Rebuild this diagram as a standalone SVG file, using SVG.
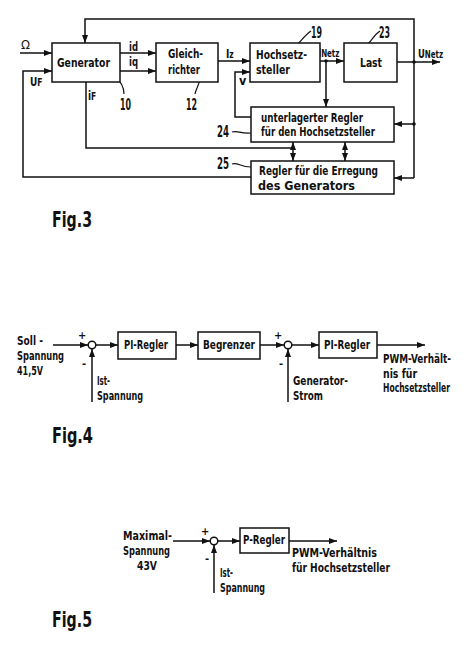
<svg xmlns="http://www.w3.org/2000/svg" width="474" height="648" viewBox="0 0 474 648">
<style>
text{font-family:"DejaVu Sans Condensed","Liberation Sans Narrow","Liberation Sans",sans-serif;font-size:12.5px;font-weight:bold;fill:#111}
.n{font-size:15px}
.fig{font-size:22px}
.box{fill:#fff;stroke:#111;stroke-width:1.5}
.ln{fill:none;stroke:#111;stroke-width:1.5}
.ld{fill:none;stroke:#111;stroke-width:1.2}
.sub{font-size:10.5px}
.pm{font-size:11px}
</style>
<defs>
<marker id="ah" viewBox="0 0 8 6" refX="8" refY="3" markerWidth="8" markerHeight="6" markerUnits="userSpaceOnUse" orient="auto-start-reverse">
<path d="M0,0 L8,3 L0,6 Z" fill="#111"/>
</marker>
</defs>
<rect width="474" height="648" fill="#fff"/>

<!-- Fig.3 connectors -->
<g id="connectors-fig3">
<path class="ln" d="M20,53 H52" marker-end="url(#ah)"/>
<path class="ln" d="M120,53 H156" marker-end="url(#ah)"/>
<path class="ln" d="M120,71 H156" marker-end="url(#ah)"/>
<path class="ln" d="M218,61 H250" marker-end="url(#ah)"/>
<path class="ln" d="M320,61 H344" marker-end="url(#ah)"/>
<path class="ln" d="M326,61 V107" marker-end="url(#ah)"/>
<path class="ln" d="M397,62 H440" marker-end="url(#ah)"/>
<path class="ln" d="M414,62 V19 H85 V43" marker-end="url(#ah)"/>
<path class="ln" d="M414,62 V178"/>
<path class="ln" d="M414,124 H394" marker-end="url(#ah)"/>
<path class="ln" d="M414,178 H394" marker-end="url(#ah)"/>
<path class="ln" d="M251,117 H235 V72 H250" marker-end="url(#ah)"/>
<path class="ln" d="M86,82 V148 H293"/>
<path class="ln" d="M293,142 V161" marker-start="url(#ah)" marker-end="url(#ah)"/>
<path class="ln" d="M345,142 V161" marker-start="url(#ah)" marker-end="url(#ah)"/>
<path class="ln" d="M251,177 H23 V71 H52" marker-end="url(#ah)"/>
<circle cx="326" cy="61" r="1.8" fill="#111"/>
<circle cx="414" cy="62" r="1.8" fill="#111"/>
<circle cx="414" cy="124" r="1.8" fill="#111"/>
<circle cx="293" cy="148" r="1.8" fill="#111"/>
<!-- reference leaders -->
<path class="ld" d="M115,77 C119,80 124,86 124,94"/>
<path class="ld" d="M200,77 C200,85 196,88 195,94"/>
<path class="ld" d="M297,45 C302,40 305,35 311,31"/>
<path class="ld" d="M367,45 C372,40 374,35 380,31"/>
<path class="ld" d="M232,132 C238,130 240,134 251,133"/>
<path class="ld" d="M232,164 C238,162 240,167 251,167"/>
</g>

<!-- Fig.3 labels on connectors -->
<g id="labels-fig3">
<text x="21" y="49" style="font-size:13px;font-weight:normal">Ω</text>
<text transform="matrix(0.72 0 0 1 129 51)" textLength="12.5" lengthAdjust="spacingAndGlyphs">id</text>
<text transform="matrix(0.72 0 0 1 129 66)" textLength="12.5" lengthAdjust="spacingAndGlyphs">iq</text>
<text transform="matrix(0.8 0 0 1 226 58)">I<tspan class="sub">z</tspan></text>
<text transform="matrix(0.75 0 0 1 318 57)">I<tspan class="sub">Netz</tspan></text>
<text transform="matrix(0.75 0 0 1 418 58)">U<tspan class="sub">Netz</tspan></text>
<text transform="matrix(0.8 0 0 1 30 86)">U<tspan class="sub">F</tspan></text>
<text transform="matrix(0.8 0 0 1 88 100)">i<tspan class="sub">F</tspan></text>
<text x="239" y="85">v</text>
<text class="n" transform="matrix(0.72 0 0 1 120 110)" textLength="15.3" lengthAdjust="spacingAndGlyphs">10</text>
<text class="n" transform="matrix(0.72 0 0 1 186 110)" textLength="15.3" lengthAdjust="spacingAndGlyphs">12</text>
<text class="n" transform="matrix(0.72 0 0 1 311 38)" textLength="15.3" lengthAdjust="spacingAndGlyphs">19</text>
<text class="n" transform="matrix(0.72 0 0 1 379 38)" textLength="15.3" lengthAdjust="spacingAndGlyphs">23</text>
<text class="n" transform="matrix(0.72 0 0 1 217 137)" textLength="16.7" lengthAdjust="spacingAndGlyphs">24</text>
<text class="n" transform="matrix(0.72 0 0 1 217 169)" textLength="16.7" lengthAdjust="spacingAndGlyphs">25</text>
</g>

<g id="generator">
<rect class="box" x="52" y="43" width="68" height="39"/>
<text transform="matrix(0.72 0 0 1 57 67)" textLength="73.6" lengthAdjust="spacingAndGlyphs">Generator</text>
</g>
<g id="gleichrichter">
<rect class="box" x="156" y="43" width="62" height="39"/>
<text transform="matrix(0.72 0 0 1 168 58)" textLength="48.6" lengthAdjust="spacingAndGlyphs">Gleich-</text>
<text transform="matrix(0.72 0 0 1 168 74)" textLength="44.4" lengthAdjust="spacingAndGlyphs">richter</text>
</g>
<g id="hochsetzsteller">
<rect class="box" x="250" y="43" width="70" height="39"/>
<text transform="matrix(0.72 0 0 1 256 59)" textLength="70.8" lengthAdjust="spacingAndGlyphs">Hochsetz-</text>
<text transform="matrix(0.72 0 0 1 256 74)" textLength="47.2" lengthAdjust="spacingAndGlyphs">steller</text>
</g>
<g id="last">
<rect class="box" x="344" y="43" width="53" height="39"/>
<text transform="matrix(0.72 0 0 1 360 67)" textLength="30.6" lengthAdjust="spacingAndGlyphs">Last</text>
</g>
<g id="regler24">
<rect class="box" x="251" y="107" width="143" height="35"/>
<text transform="matrix(0.72 0 0 1 261 122)" textLength="141.7" lengthAdjust="spacingAndGlyphs">unterlagerter Regler</text>
<text transform="matrix(0.72 0 0 1 261 136)" textLength="158.3" lengthAdjust="spacingAndGlyphs">für den Hochsetzsteller</text>
</g>
<g id="regler25">
<rect class="box" x="251" y="161" width="143" height="33"/>
<text transform="matrix(0.72 0 0 1 259 175)" textLength="165.3" lengthAdjust="spacingAndGlyphs">Regler für die Erregung</text>
<text transform="matrix(0.72 0 0 1 258 190)" textLength="134.7" lengthAdjust="spacingAndGlyphs">des Generators</text>
</g>
<text class="fig" transform="matrix(0.72 0 0 1 52 227)" textLength="55.6" lengthAdjust="spacingAndGlyphs">Fig.3</text>

<!-- Fig.4 -->
<g id="connectors-fig4">
<path class="ln" d="M53,345 H88" marker-end="url(#ah)"/>
<path class="ln" d="M92,402 V349" marker-end="url(#ah)"/>
<path class="ln" d="M96,345 H118" marker-end="url(#ah)"/>
<path class="ln" d="M176,345 H198" marker-end="url(#ah)"/>
<path class="ln" d="M260,345 H284" marker-end="url(#ah)"/>
<path class="ln" d="M288,402 V349" marker-end="url(#ah)"/>
<path class="ln" d="M292,345 H319" marker-end="url(#ah)"/>
<path class="ln" d="M377,345 H425" marker-end="url(#ah)"/>
</g>
<g id="sum4a">
<circle class="box" cx="92" cy="345" r="3.8"/>
<text class="pm" x="78" y="339">+</text>
<text class="pm" x="82" y="367">-</text>
</g>
<g id="sum4b">
<circle class="box" cx="288" cy="345" r="3.8"/>
<text class="pm" x="274" y="339">+</text>
<text class="pm" x="279" y="367">-</text>
</g>
<g id="labels-fig4">
<text transform="matrix(0.72 0 0 1 17 345)" textLength="36.1" lengthAdjust="spacingAndGlyphs">Soll -</text>
<text transform="matrix(0.72 0 0 1 17 360)" textLength="65.3" lengthAdjust="spacingAndGlyphs">Spannung</text>
<text transform="matrix(0.72 0 0 1 17 375)" textLength="36.1" lengthAdjust="spacingAndGlyphs">41,5V</text>
<text transform="matrix(0.72 0 0 1 97 385)" textLength="18.1" lengthAdjust="spacingAndGlyphs">Ist-</text>
<text transform="matrix(0.72 0 0 1 97 400)" textLength="63.9" lengthAdjust="spacingAndGlyphs">Spannung</text>
<text transform="matrix(0.72 0 0 1 293 385)" textLength="76.4" lengthAdjust="spacingAndGlyphs">Generator-</text>
<text transform="matrix(0.72 0 0 1 293 400)" textLength="41.7" lengthAdjust="spacingAndGlyphs">Strom</text>
<text transform="matrix(0.72 0 0 1 383 363)" textLength="94.4" lengthAdjust="spacingAndGlyphs">PWM-Verhält-</text>
<text transform="matrix(0.72 0 0 1 383 378)" textLength="47.2" lengthAdjust="spacingAndGlyphs">nis für</text>
<text transform="matrix(0.72 0 0 1 383 392)" textLength="93.1" lengthAdjust="spacingAndGlyphs">Hochsetzsteller</text>
</g>
<g id="piregler1">
<rect class="box" x="118" y="332" width="58" height="27"/>
<text transform="matrix(0.72 0 0 1 124 349)" textLength="61.1" lengthAdjust="spacingAndGlyphs">PI-Regler</text>
</g>
<g id="begrenzer">
<rect class="box" x="198" y="332" width="62" height="27"/>
<text transform="matrix(0.72 0 0 1 203 349)" textLength="72.2" lengthAdjust="spacingAndGlyphs">Begrenzer</text>
</g>
<g id="piregler2">
<rect class="box" x="319" y="332" width="58" height="26"/>
<text transform="matrix(0.72 0 0 1 324 349)" textLength="63.9" lengthAdjust="spacingAndGlyphs">PI-Regler</text>
</g>
<text class="fig" transform="matrix(0.72 0 0 1 52 443)" textLength="56.9" lengthAdjust="spacingAndGlyphs">Fig.4</text>

<!-- Fig.5 -->
<g id="connectors-fig5">
<path class="ln" d="M173,541 H210" marker-end="url(#ah)"/>
<path class="ln" d="M214,593 V545" marker-end="url(#ah)"/>
<path class="ln" d="M218,541 H240" marker-end="url(#ah)"/>
<path class="ln" d="M289,541 H337" marker-end="url(#ah)"/>
</g>
<g id="sum5">
<circle class="box" cx="214" cy="541" r="3.8"/>
<text class="pm" x="201" y="535">+</text>
<text class="pm" x="205" y="562">-</text>
</g>
<g id="pregler">
<rect class="box" x="240" y="528" width="49" height="25"/>
<text transform="matrix(0.72 0 0 1 243 544)" textLength="58.3" lengthAdjust="spacingAndGlyphs">P-Regler</text>
</g>
<g id="labels-fig5">
<text transform="matrix(0.72 0 0 1 123 540)" textLength="68.1" lengthAdjust="spacingAndGlyphs">Maximal-</text>
<text transform="matrix(0.72 0 0 1 123 555)" textLength="65.3" lengthAdjust="spacingAndGlyphs">Spannung</text>
<text transform="matrix(0.72 0 0 1 137 570)" textLength="27.8" lengthAdjust="spacingAndGlyphs">43V</text>
<text transform="matrix(0.72 0 0 1 220 577)" textLength="18.1" lengthAdjust="spacingAndGlyphs">Ist-</text>
<text transform="matrix(0.72 0 0 1 220 592)" textLength="62.5" lengthAdjust="spacingAndGlyphs">Spannung</text>
<text transform="matrix(0.72 0 0 1 292 557)" textLength="118.1" lengthAdjust="spacingAndGlyphs">PWM-Verhältnis</text>
<text transform="matrix(0.72 0 0 1 292 572)" textLength="136.1" lengthAdjust="spacingAndGlyphs">für Hochsetzsteller</text>
</g>
<text class="fig" transform="matrix(0.72 0 0 1 52 627)" textLength="55.6" lengthAdjust="spacingAndGlyphs">Fig.5</text>
</svg>
